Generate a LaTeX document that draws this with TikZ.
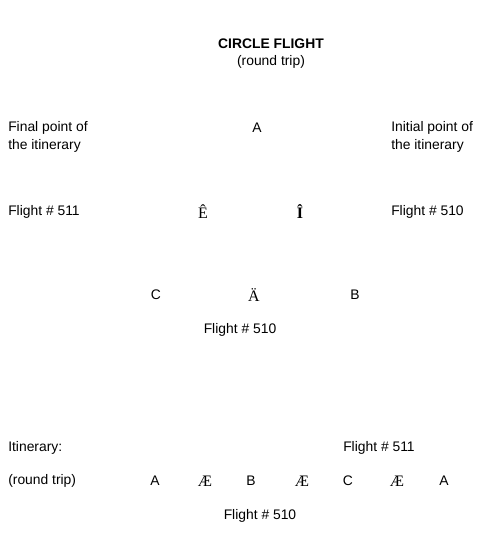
\documentclass[tikz,border=0pt]{standalone}
\usepackage{fontspec}
\setmainfont{Liberation Sans}
\newfontfamily\symfont{Liberation Serif}
\tikzset{
  txt/.style={inner sep=0pt,font=\fontsize{10.4}{12.5}\selectfont},
  lft/.style={txt,anchor=west},
  sym/.style={inner sep=0pt,font=\fontsize{12}{14}\symfont}
}
\begin{document}
\begin{tikzpicture}[x=0.75pt,y=-0.75pt]
            \useasboundingbox (0,0) rectangle (483,536);
            % heading
            \node[txt] (title) at (271,44) {\bfseries CIRCLE FLIGHT};
            \node[txt] (sub) at (271,62) {(round trip)};
            % route triangle
            \node[lft] (final1) at (8,128) {Final point of};
            \node[lft] (final2) at (8,146) {the itinerary};
            \node[txt] (a) at (257,128) {A};
            \node[lft] (init1) at (391,128) {Initial point of};
            \node[lft] (init2) at (391,146) {the itinerary};
            \node[lft] (fl511) at (8,212) {Flight \# 511};
            \node[sym] (arrca) at (203,212) {Ê};
            \node[sym] (arrab) at (300,212) {\bfseries Î};
            \node[lft] (fl510) at (391,212) {Flight \# 510};
            \node[txt] (c) at (156,295) {C};
            \node[sym] (arrbc) at (254,295) {Ä};
            \node[txt] (b) at (355,295) {B};
            \node[txt] (fl510b) at (240,330) {Flight \# 510};
            % itinerary
            \node[lft] (itin) at (8,448) {Itinerary:};
            \node[lft] (it511) at (343,448) {Flight \# 511};
            \node[lft] (itrt) at (8,481) {(round trip)};
            \node[txt] (s1) at (155,481) {A};
            \node[sym] (r1) at (205,481) {Æ};
            \node[txt] (s2) at (251,481) {B};
            \node[sym] (r2) at (302,481) {Æ};
            \node[txt] (s3) at (348,481) {C};
            \node[sym] (r3) at (397,481) {Æ};
            \node[txt] (s4) at (444,481) {A};
            \node[txt] (it510) at (260,516) {Flight \# 510};
\end{tikzpicture}
\end{document}
